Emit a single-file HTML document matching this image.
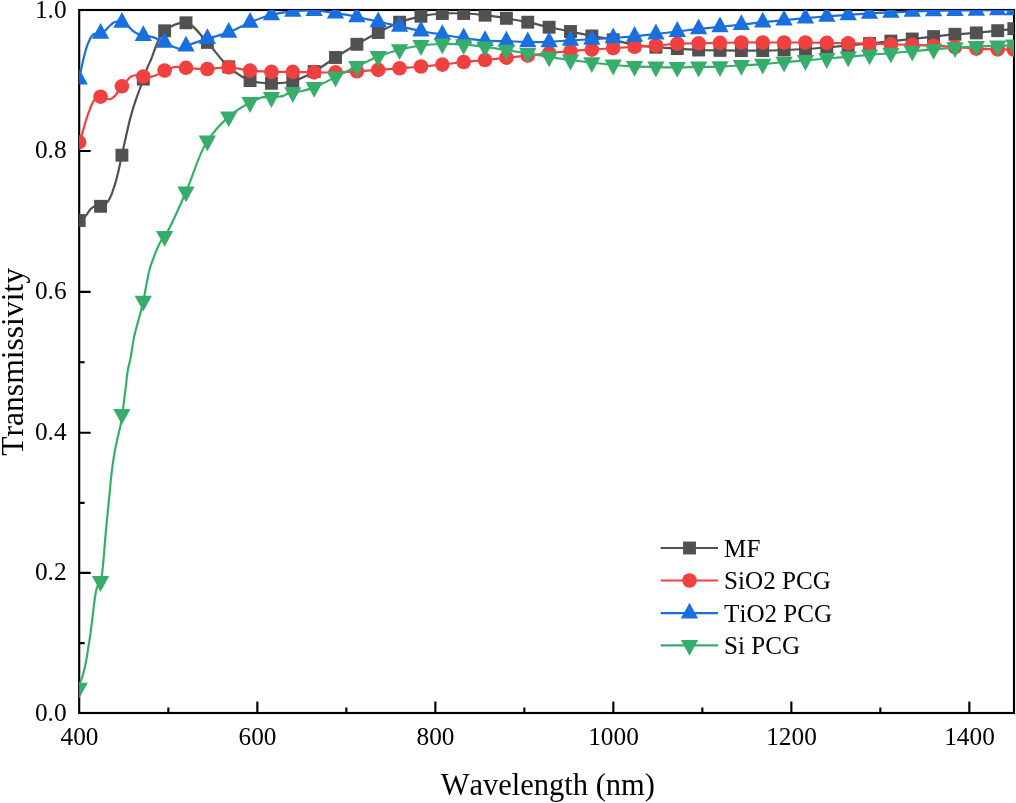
<!DOCTYPE html>
<html lang="en">
<head>
<meta charset="utf-8">
<title>Transmissivity vs Wavelength</title>
<style>
html,body{margin:0;padding:0;background:#fff;}
body{width:1016px;height:803px;overflow:hidden;}
svg{display:block;}
text{font-family:"Liberation Serif","Times New Roman",Times,serif;fill:#000;font-kerning:none;}
.tick{font-size:25.3px;}
.title{font-size:30.5px;}
.leg{font-size:25.1px;}
.ln{fill:none;stroke-width:2.2;stroke-linejoin:round;stroke-linecap:butt;}
</style>
</head>
<body>
<svg width="1016" height="803" viewBox="0 0 1016 803">
<rect width="1016" height="803" fill="#fff"/>
<defs><clipPath id="plot"><rect x="79.2" y="10" width="934.8" height="703"/></clipPath></defs>
<g id="frame" stroke="#000" stroke-width="2.15" fill="none" stroke-linecap="butt">
<rect x="79.2" y="10" width="934.8" height="703"/>
<path d="M168.35,713V707.5M257.35,713V701.5M346.35,713V707.5M435.35,713V701.5M524.35,713V707.5M613.35,713V701.5M702.35,713V707.5M791.35,713V701.5M880.35,713V707.5M969.35,713V701.5M79.2,643.1H84.7M79.2,572.9H90.7M79.2,502.8H84.7M79.2,432.7H90.7M79.2,362.2H84.7M79.2,291.8H90.7M79.2,221.4H84.7M79.2,151H90.7M79.2,80.7H84.7"/>
</g>
<g id="xticks" class="tick" text-anchor="middle">
<text x="79.5" y="745.3">400</text>
<text x="257.5" y="745.3">600</text>
<text x="435.5" y="745.3">800</text>
<text x="613.5" y="745.3">1000</text>
<text x="791.5" y="745.3">1200</text>
<text x="969.5" y="745.3">1400</text>
</g>
<g id="yticks" class="tick" text-anchor="end">
<text x="66.6" y="720.9">0.0</text>
<text x="66.6" y="580.3">0.2</text>
<text x="66.6" y="440.1">0.4</text>
<text x="66.6" y="299.2">0.6</text>
<text x="66.6" y="158.4">0.8</text>
<text x="66.6" y="17.7">1.0</text>
</g>
<text class="title" text-anchor="middle" x="547.8" y="794.5">Wavelength (nm)</text>
<text class="title" style="font-size:31.6px" text-anchor="middle" transform="translate(22.7,361.9) rotate(-90)">Transmissivity</text>
<g id="data" clip-path="url(#plot)">
<g id="s-black" fill="#515151" stroke="none">
<path class="ln" stroke="#515151" d="M79.2,220.5C81.4,218.93 83.98,217.68 85.8,215.8C87.45,214.09 88.27,211.54 89.8,209.9C90.98,208.64 92.17,207.34 93.7,206.7C95.63,205.89 98.4,206.94 100.56,206.3C102.86,205.61 105.31,204.17 107,202.5C108.5,201.02 109.41,199.05 110.4,197.1C111.62,194.69 112.46,191.92 113.4,189.2C114.48,186.05 115.5,182.69 116.4,179.4C117.3,176.12 118.08,172.65 118.8,169.5C119.35,167.11 119.79,164.92 120.3,162.6C120.83,160.15 121.31,157.95 121.92,155.2C124.09,145.42 127.91,126.5 131.1,115.1C132.7,109.37 134.31,104.34 136,99.4C137.3,95.59 138.72,92.07 140,88.5C141.14,85.32 142.17,82.26 143.28,79.1C144.46,75.73 145.59,72.2 146.9,68.9C148.11,65.85 149.33,63.25 150.8,60C154.41,51.99 157.41,36.99 164.64,30.8C170.21,26.03 179.41,21.77 186,22.8C193.88,24.03 200.52,35.41 207.36,42.4C214.81,50.02 220.81,60.19 228.72,66.9C235.29,72.47 242.46,77.92 250.08,80.6C256.81,82.97 264.31,83.19 271.44,83.3C278.55,83.41 285.91,83.12 292.8,81.3C300.18,79.35 307.25,75.31 314.16,71.5C321.52,67.45 328.35,62.06 335.52,57.5C342.6,53 349.68,48.51 356.88,44.3C363.93,40.18 371.04,36.22 378.24,32.5C385.29,28.86 392.29,24.93 399.6,22.2C406.55,19.6 413.76,17.75 420.96,16.3C428.01,14.88 435.18,13.97 442.32,13.5C449.42,13.04 456.57,13.22 463.68,13.5C470.81,13.78 477.94,14.4 485.04,15.2C492.18,16 499.3,17.14 506.4,18.3C513.54,19.47 520.67,20.72 527.76,22.2C534.91,23.69 541.98,25.65 549.12,27.2C556.22,28.75 563.36,30.03 570.48,31.5C577.6,32.97 584.7,34.61 591.84,36C598.94,37.38 606.11,38.33 613.2,39.8C620.35,41.29 627.38,43.66 634.56,44.9C641.62,46.12 648.79,46.58 655.92,47.2C663.03,47.82 670.16,48.13 677.28,48.6C684.4,49.07 691.51,49.7 698.64,50C705.75,50.3 712.88,50.3 720,50.4C727.12,50.5 734.24,50.57 741.36,50.6C748.48,50.63 755.6,50.7 762.72,50.6C769.84,50.5 776.96,50.27 784.08,50C791.2,49.73 798.32,49.43 805.44,49C812.56,48.57 819.68,47.98 826.8,47.4C833.92,46.82 841.04,46.15 848.16,45.5C855.28,44.85 862.41,44.23 869.52,43.5C876.65,42.77 883.76,41.85 890.88,41.1C898,40.35 905.12,39.75 912.24,39C919.36,38.25 926.48,37.38 933.6,36.6C940.72,35.82 947.83,34.92 954.96,34.3C962.07,33.68 969.21,33.5 976.32,32.9C983.45,32.3 990.83,31.48 997.68,30.7C1003.23,30.07 1008.43,29.37 1013.8,28.7"/>
<rect x="72.75" y="214.05" width="12.9" height="12.9"/><rect x="94.11" y="199.85" width="12.9" height="12.9"/><rect x="115.47" y="148.75" width="12.9" height="12.9"/><rect x="136.83" y="72.65" width="12.9" height="12.9"/><rect x="158.19" y="24.35" width="12.9" height="12.9"/><rect x="179.55" y="16.35" width="12.9" height="12.9"/><rect x="200.91" y="35.95" width="12.9" height="12.9"/><rect x="222.27" y="60.45" width="12.9" height="12.9"/><rect x="243.63" y="74.15" width="12.9" height="12.9"/><rect x="264.99" y="76.85" width="12.9" height="12.9"/><rect x="286.35" y="74.85" width="12.9" height="12.9"/><rect x="307.71" y="65.05" width="12.9" height="12.9"/><rect x="329.07" y="51.05" width="12.9" height="12.9"/><rect x="350.43" y="37.85" width="12.9" height="12.9"/><rect x="371.79" y="26.05" width="12.9" height="12.9"/><rect x="393.15" y="15.75" width="12.9" height="12.9"/><rect x="414.51" y="9.85" width="12.9" height="12.9"/><rect x="435.87" y="7.05" width="12.9" height="12.9"/><rect x="457.23" y="7.05" width="12.9" height="12.9"/><rect x="478.59" y="8.75" width="12.9" height="12.9"/><rect x="499.95" y="11.85" width="12.9" height="12.9"/><rect x="521.31" y="15.75" width="12.9" height="12.9"/><rect x="542.67" y="20.75" width="12.9" height="12.9"/><rect x="564.03" y="25.05" width="12.9" height="12.9"/><rect x="585.39" y="29.55" width="12.9" height="12.9"/><rect x="606.75" y="33.35" width="12.9" height="12.9"/><rect x="628.11" y="38.45" width="12.9" height="12.9"/><rect x="649.47" y="40.75" width="12.9" height="12.9"/><rect x="670.83" y="42.15" width="12.9" height="12.9"/><rect x="692.19" y="43.55" width="12.9" height="12.9"/><rect x="713.55" y="43.95" width="12.9" height="12.9"/><rect x="734.91" y="44.15" width="12.9" height="12.9"/><rect x="756.27" y="44.15" width="12.9" height="12.9"/><rect x="777.63" y="43.55" width="12.9" height="12.9"/><rect x="798.99" y="42.55" width="12.9" height="12.9"/><rect x="820.35" y="40.95" width="12.9" height="12.9"/><rect x="841.71" y="39.05" width="12.9" height="12.9"/><rect x="863.07" y="37.05" width="12.9" height="12.9"/><rect x="884.43" y="34.65" width="12.9" height="12.9"/><rect x="905.79" y="32.55" width="12.9" height="12.9"/><rect x="927.15" y="30.15" width="12.9" height="12.9"/><rect x="948.51" y="27.85" width="12.9" height="12.9"/><rect x="969.87" y="26.45" width="12.9" height="12.9"/><rect x="991.23" y="24.25" width="12.9" height="12.9"/><rect x="1007.35" y="22.25" width="12.9" height="12.9"/>
</g>
<g id="s-red" fill="#F14040" stroke="none">
<path class="ln" stroke="#F14040" d="M79.2,142.2C80.27,139.07 81.38,136.03 82.4,132.8C83.6,129.01 84.61,124.76 85.8,121C86.76,117.95 87.75,115.05 88.8,112.2C89.73,109.67 90.7,107.02 91.7,104.8C92.35,103.36 92.86,101.98 93.7,100.8C94.48,99.71 95.38,98.58 96.5,97.9C97.66,97.19 99.24,96.69 100.56,96.7C101.73,96.71 102.86,97.34 104,97.7C105.17,98.07 106.34,98.65 107.5,98.9C108.47,99.11 109.47,99.4 110.4,99.2C111.62,98.94 112.85,97.82 113.9,96.9C115,95.93 115.81,94.75 116.8,93.5C118.45,91.42 120.12,88.58 121.92,86.3C123.6,84.17 125.44,82.03 127.2,80.2C128.5,78.85 129.63,77.32 131.1,76.5C132.32,75.82 133.75,75.42 135.1,75.3C136.39,75.18 137.69,75.5 139,75.7C140.42,75.92 141.77,76.39 143.28,76.6C145.44,76.89 148.14,77.18 150.3,76.9C151.86,76.7 153.32,76.14 154.7,75.7C155.75,75.36 156.65,75.07 157.7,74.6C159.81,73.66 162.28,71.62 164.64,70.5C166.72,69.51 168.96,68.75 171,68.1C172.51,67.62 173.79,67.11 175.4,66.9C178.43,66.51 182.21,67.52 186,67.8C192.4,68.27 200.24,69.07 207.36,69C214.48,68.93 221.62,67.14 228.72,67.4C235.86,67.66 242.94,69.85 250.08,70.6C257.18,71.35 264.32,71.68 271.44,71.9C278.56,72.12 285.68,71.82 292.8,71.9C299.92,71.98 307.04,72.32 314.16,72.4C321.28,72.48 328.4,72.58 335.52,72.4C342.64,72.22 349.76,71.72 356.88,71.3C364,70.88 371.12,70.4 378.24,69.9C385.36,69.4 392.48,68.87 399.6,68.3C406.72,67.73 413.84,67.12 420.96,66.5C428.08,65.88 435.21,65.35 442.32,64.6C449.45,63.85 456.55,62.77 463.68,62C470.79,61.23 477.92,60.72 485.04,60C492.16,59.28 499.28,58.42 506.4,57.7C513.52,56.98 520.65,56.47 527.76,55.7C534.89,54.93 541.99,53.87 549.12,53.1C556.23,52.33 563.35,51.68 570.48,51.1C577.59,50.52 584.72,50.08 591.84,49.6C598.96,49.12 606.08,48.67 613.2,48.2C620.32,47.73 627.44,47.22 634.56,46.8C641.68,46.38 648.81,46.22 655.92,45.7C663.05,45.18 670.15,44.1 677.28,43.7C684.39,43.3 691.52,43.43 698.64,43.3C705.76,43.17 712.88,43.03 720,42.9C727.12,42.77 734.24,42.57 741.36,42.5C748.48,42.43 755.6,42.5 762.72,42.5C769.84,42.5 776.96,42.5 784.08,42.5C791.2,42.5 798.32,42.45 805.44,42.5C812.56,42.55 819.68,42.67 826.8,42.8C833.92,42.93 841.04,43.15 848.16,43.3C855.28,43.45 862.4,43.53 869.52,43.7C876.64,43.87 883.76,44.1 890.88,44.3C898,44.5 905.12,44.67 912.24,44.9C919.36,45.13 926.48,45.35 933.6,45.7C940.72,46.05 947.84,46.52 954.96,47C962.08,47.48 969.19,48.2 976.32,48.6C983.43,49 990.83,49.26 997.68,49.4C1003.23,49.51 1008.43,49.47 1013.8,49.5"/>
<circle cx="79.2" cy="142.2" r="7.3"/><circle cx="100.56" cy="96.7" r="7.3"/><circle cx="121.92" cy="86.3" r="7.3"/><circle cx="143.28" cy="76.6" r="7.3"/><circle cx="164.64" cy="70.5" r="7.3"/><circle cx="186" cy="67.8" r="7.3"/><circle cx="207.36" cy="69" r="7.3"/><circle cx="228.72" cy="67.4" r="7.3"/><circle cx="250.08" cy="70.6" r="7.3"/><circle cx="271.44" cy="71.9" r="7.3"/><circle cx="292.8" cy="71.9" r="7.3"/><circle cx="314.16" cy="72.4" r="7.3"/><circle cx="335.52" cy="72.4" r="7.3"/><circle cx="356.88" cy="71.3" r="7.3"/><circle cx="378.24" cy="69.9" r="7.3"/><circle cx="399.6" cy="68.3" r="7.3"/><circle cx="420.96" cy="66.5" r="7.3"/><circle cx="442.32" cy="64.6" r="7.3"/><circle cx="463.68" cy="62" r="7.3"/><circle cx="485.04" cy="60" r="7.3"/><circle cx="506.4" cy="57.7" r="7.3"/><circle cx="527.76" cy="55.7" r="7.3"/><circle cx="549.12" cy="53.1" r="7.3"/><circle cx="570.48" cy="51.1" r="7.3"/><circle cx="591.84" cy="49.6" r="7.3"/><circle cx="613.2" cy="48.2" r="7.3"/><circle cx="634.56" cy="46.8" r="7.3"/><circle cx="655.92" cy="45.7" r="7.3"/><circle cx="677.28" cy="43.7" r="7.3"/><circle cx="698.64" cy="43.3" r="7.3"/><circle cx="720" cy="42.9" r="7.3"/><circle cx="741.36" cy="42.5" r="7.3"/><circle cx="762.72" cy="42.5" r="7.3"/><circle cx="784.08" cy="42.5" r="7.3"/><circle cx="805.44" cy="42.5" r="7.3"/><circle cx="826.8" cy="42.8" r="7.3"/><circle cx="848.16" cy="43.3" r="7.3"/><circle cx="869.52" cy="43.7" r="7.3"/><circle cx="890.88" cy="44.3" r="7.3"/><circle cx="912.24" cy="44.9" r="7.3"/><circle cx="933.6" cy="45.7" r="7.3"/><circle cx="954.96" cy="47" r="7.3"/><circle cx="976.32" cy="48.6" r="7.3"/><circle cx="997.68" cy="49.4" r="7.3"/><circle cx="1013.8" cy="49.5" r="7.3"/>
</g>
<g id="s-blue" fill="#1A6FDF" stroke="none">
<path class="ln" stroke="#1A6FDF" d="M79.2,79C79.83,75.93 80.46,72.87 81.1,69.8C81.76,66.67 82.39,63.45 83.1,60.4C83.73,57.7 84.39,55.04 85.1,52.5C85.7,50.33 86.3,48.22 87,46.2C87.61,44.44 88.27,42.71 89,41.1C89.62,39.74 90.25,38.37 91,37.2C91.58,36.29 92.09,35.3 92.9,34.7C93.74,34.08 94.9,33.83 96,33.6C97.41,33.31 99.14,33.82 100.56,33.4C102.05,32.96 103.4,31.91 104.7,30.9C106.28,29.68 107.63,27.89 109.1,26.5C110.4,25.28 111.68,23.87 113,23C113.83,22.45 114.61,21.98 115.5,21.7C116.44,21.4 117.5,21.22 118.5,21.3C119.64,21.39 120.8,22 121.92,22.4C122.97,22.77 124.02,23.03 125,23.6C126.35,24.38 127.6,25.76 128.8,26.9C129.89,27.94 130.8,29.15 131.9,30.1C132.91,30.97 134,31.73 135.1,32.4C136.1,33.01 137.08,33.53 138.2,34C139.73,34.65 141.49,35.19 143.28,35.6C145.62,36.14 148.49,36.06 150.8,36.6C152.47,36.99 153.85,37.48 155.5,38.1C158.31,39.16 161.83,40.85 164.64,42.3C166.72,43.37 168.58,44.7 170.5,45.6C171.95,46.28 173.37,46.78 174.8,47.3C176.11,47.77 177.41,48.53 178.7,48.6C179.81,48.66 180.91,48.34 182,48C183.35,47.58 184.49,46.76 186,46.1C191.12,43.87 200.19,40.9 207.36,38.6C214.43,36.33 221.75,35.02 228.72,32.4C236,29.67 242.85,25.37 250.08,22.4C257.1,19.52 264.19,16.64 271.44,14.8C278.44,13.02 285.65,12.12 292.8,11.4C299.89,10.69 307.06,10.2 314.16,10.5C321.3,10.8 328.42,12.15 335.52,13.2C342.66,14.25 349.79,15.38 356.88,16.8C364.03,18.24 371.11,20.21 378.24,21.8C385.35,23.38 392.49,24.77 399.6,26.3C406.73,27.83 413.81,29.61 420.96,31C428.05,32.38 435.2,33.43 442.32,34.6C449.44,35.77 456.55,36.98 463.68,38C470.79,39.01 477.9,40.17 485.04,40.7C492.14,41.23 499.28,41 506.4,41.2C513.52,41.4 520.64,41.78 527.76,41.9C534.88,42.02 542.01,42.17 549.12,41.9C556.25,41.63 563.36,40.73 570.48,40.3C577.6,39.87 584.72,39.7 591.84,39.3C598.96,38.9 606.08,38.38 613.2,37.9C620.32,37.42 627.45,37.05 634.56,36.4C641.69,35.75 648.8,34.82 655.92,34C663.04,33.18 670.16,32.35 677.28,31.5C684.4,30.65 691.51,29.68 698.64,28.9C705.75,28.12 712.88,27.52 720,26.8C727.12,26.08 734.24,25.37 741.36,24.6C748.48,23.83 755.59,22.93 762.72,22.2C769.83,21.47 776.96,20.88 784.08,20.2C791.2,19.52 798.32,18.73 805.44,18.1C812.56,17.47 819.68,16.95 826.8,16.4C833.92,15.85 841.04,15.3 848.16,14.8C855.28,14.3 862.4,13.8 869.52,13.4C876.64,13 883.76,12.73 890.88,12.4C898,12.07 905.12,11.67 912.24,11.4C919.36,11.13 926.48,10.95 933.6,10.8C940.72,10.65 947.84,10.58 954.96,10.5C962.08,10.42 969.2,10.4 976.32,10.3C983.44,10.2 990.83,9.96 997.68,9.9C1003.23,9.85 1008.43,9.9 1013.8,9.9"/>
<path d="M79.2,68.6L87.85,84.4L70.55,84.4Z"/><path d="M100.56,23L109.21,38.8L91.91,38.8Z"/><path d="M121.92,12L130.57,27.8L113.27,27.8Z"/><path d="M143.28,25.2L151.93,41L134.63,41Z"/><path d="M164.64,31.9L173.29,47.7L155.99,47.7Z"/><path d="M186,35.7L194.65,51.5L177.35,51.5Z"/><path d="M207.36,28.2L216.01,44L198.71,44Z"/><path d="M228.72,22L237.37,37.8L220.07,37.8Z"/><path d="M250.08,12L258.73,27.8L241.43,27.8Z"/><path d="M271.44,4.4L280.09,20.2L262.79,20.2Z"/><path d="M292.8,1L301.45,16.8L284.15,16.8Z"/><path d="M314.16,0.1L322.81,15.9L305.51,15.9Z"/><path d="M335.52,2.8L344.17,18.6L326.87,18.6Z"/><path d="M356.88,6.4L365.53,22.2L348.23,22.2Z"/><path d="M378.24,11.4L386.89,27.2L369.59,27.2Z"/><path d="M399.6,15.9L408.25,31.7L390.95,31.7Z"/><path d="M420.96,20.6L429.61,36.4L412.31,36.4Z"/><path d="M442.32,24.2L450.97,40L433.67,40Z"/><path d="M463.68,27.6L472.33,43.4L455.03,43.4Z"/><path d="M485.04,30.3L493.69,46.1L476.39,46.1Z"/><path d="M506.4,30.8L515.05,46.6L497.75,46.6Z"/><path d="M527.76,31.5L536.41,47.3L519.11,47.3Z"/><path d="M549.12,31.5L557.77,47.3L540.47,47.3Z"/><path d="M570.48,29.9L579.13,45.7L561.83,45.7Z"/><path d="M591.84,28.9L600.49,44.7L583.19,44.7Z"/><path d="M613.2,27.5L621.85,43.3L604.55,43.3Z"/><path d="M634.56,26L643.21,41.8L625.91,41.8Z"/><path d="M655.92,23.6L664.57,39.4L647.27,39.4Z"/><path d="M677.28,21.1L685.93,36.9L668.63,36.9Z"/><path d="M698.64,18.5L707.29,34.3L689.99,34.3Z"/><path d="M720,16.4L728.65,32.2L711.35,32.2Z"/><path d="M741.36,14.2L750.01,30L732.71,30Z"/><path d="M762.72,11.8L771.37,27.6L754.07,27.6Z"/><path d="M784.08,9.8L792.73,25.6L775.43,25.6Z"/><path d="M805.44,7.7L814.09,23.5L796.79,23.5Z"/><path d="M826.8,6L835.45,21.8L818.15,21.8Z"/><path d="M848.16,4.4L856.81,20.2L839.51,20.2Z"/><path d="M869.52,3L878.17,18.8L860.87,18.8Z"/><path d="M890.88,2L899.53,17.8L882.23,17.8Z"/><path d="M912.24,1L920.89,16.8L903.59,16.8Z"/><path d="M933.6,0.4L942.25,16.2L924.95,16.2Z"/><path d="M954.96,0.1L963.61,15.9L946.31,15.9Z"/><path d="M976.32,-0.1L984.97,15.7L967.67,15.7Z"/><path d="M997.68,-0.5L1006.33,15.3L989.03,15.3Z"/><path d="M1013.8,-0.5L1022.45,15.3L1005.15,15.3Z"/>
</g>
<g id="s-green" fill="#37AD6B" stroke="none">
<path class="ln" stroke="#37AD6B" d="M79.2,685.8C79.57,684.63 79.89,683.51 80.3,682.3C80.87,680.62 81.68,678.9 82.3,677C83.23,674.16 84.05,670.86 84.8,667.6C85.73,663.54 86.54,658.74 87.2,654.8C87.63,652.23 87.91,649.98 88.3,647.5C88.74,644.69 89.26,641.82 89.7,638.9C90.19,635.68 90.63,632.34 91.06,629.06C91.49,625.78 91.91,622.49 92.3,619.2C92.69,615.93 93,612.67 93.4,609.4C93.8,606.1 94.19,602.83 94.7,599.5C95.25,595.93 95.64,591.97 96.6,588.7C97.27,586.4 98.26,584.43 99.1,582.3C99.93,580.19 100.98,578.26 101.6,576C102.43,572.96 102.52,569.41 102.9,566C103.33,562.13 103.63,558.28 104,554.1C104.53,548 105.02,540.96 105.6,534.4C106.18,527.83 106.87,521.2 107.5,514.7C108.09,508.57 108.73,501.78 109.25,496.5C109.52,493.76 109.74,491.51 110,488.9C110.31,485.74 110.59,482.44 110.95,479.1C111.36,475.23 111.84,471.11 112.35,467.2C112.83,463.55 113.31,459.99 113.9,456.4C114.49,452.79 115.17,449.19 115.9,445.6C116.63,441.99 117.48,438.37 118.3,434.8C119.08,431.37 120.1,428.03 120.7,424.6C121.29,421.23 121.39,417.47 121.9,414.4C122.22,412.47 122.67,410.94 123,409C123.58,405.61 123.93,401.15 124.4,397.5C124.76,394.69 125.12,392.33 125.5,389.4C126.24,383.7 126.8,375.65 127.9,369.7C128.61,365.88 129.62,362.82 130.4,359C131.67,352.81 132.41,344.97 133.8,338.4C134.94,332.97 136.44,327.65 137.75,322.7C138.74,318.97 139.78,315.58 140.7,312C141.62,308.42 142.45,305.03 143.28,301.2C144.55,295.37 145.66,288.18 146.9,282.1C147.88,277.32 148.66,272.63 149.9,268.3C150.88,264.86 152.1,261.75 153.3,258.5C154.53,255.19 155.78,251.75 157.2,248.6C158.44,245.85 159.69,242.99 161.2,240.7C162.26,239.1 163.46,238.06 164.64,236.4C170.78,227.76 179.15,207.02 186,191.8C193.43,175.29 198.14,155.01 207.36,141C213.54,131.62 220.88,123.56 228.72,116.8C235.33,111.1 243.91,105.79 250.08,102.5C252.61,101.15 254.81,100.11 257.2,99.2C259.32,98.39 261.38,97.51 263.6,97.2C266.1,96.85 268.9,97.62 271.44,97.5C273.65,97.4 275.8,96.99 277.9,96.7C279.74,96.45 281.72,96.46 283.3,95.9C284.41,95.51 285.19,94.76 286.3,94.3C288.15,93.53 290.59,93.06 292.8,92.6C295.15,92.11 297.46,92.03 300,91.5C304.31,90.6 309.33,89.2 314.16,87.4C321.06,84.82 328.4,80.48 335.52,77C342.64,73.51 349.74,69.93 356.88,66.5C363.98,63.1 370.98,59.33 378.24,56.5C385.23,53.77 392.4,51.54 399.6,49.7C406.64,47.9 413.8,46.45 420.96,45.5C428.04,44.56 435.19,44.15 442.32,44C449.43,43.85 456.57,44.12 463.68,44.6C470.81,45.08 477.94,45.97 485.04,46.9C492.18,47.83 499.28,49.13 506.4,50.2C513.52,51.27 520.65,52.19 527.76,53.3C534.89,54.42 541.99,55.78 549.12,56.9C556.23,58.01 563.35,59.05 570.48,60C577.59,60.95 584.72,61.77 591.84,62.6C598.96,63.43 606.07,64.37 613.2,65C620.31,65.63 627.44,66.07 634.56,66.4C641.68,66.73 648.8,66.83 655.92,67C663.04,67.17 670.16,67.4 677.28,67.4C684.4,67.4 691.52,67.13 698.64,67C705.76,66.87 712.88,66.87 720,66.6C727.12,66.33 734.24,65.82 741.36,65.4C748.48,64.98 755.61,64.63 762.72,64.1C769.85,63.57 776.96,62.8 784.08,62.2C791.2,61.6 798.32,61.12 805.44,60.5C812.56,59.88 819.68,59.12 826.8,58.5C833.92,57.88 841.04,57.42 848.16,56.8C855.28,56.18 862.4,55.4 869.52,54.8C876.64,54.2 883.76,53.8 890.88,53.2C898,52.6 905.12,51.85 912.24,51.2C919.36,50.55 926.48,49.88 933.6,49.3C940.72,48.72 947.84,48.2 954.96,47.7C962.08,47.2 969.19,46.58 976.32,46.3C983.43,46.02 990.83,46.27 997.68,46C1003.23,45.78 1008.43,45.33 1013.8,45"/>
<path d="M79.2,698.6L87.85,682.8L70.55,682.8Z"/><path d="M100.56,591.9L109.21,576.1L91.91,576.1Z"/><path d="M121.92,424.8L130.57,409L113.27,409Z"/><path d="M143.28,311.6L151.93,295.8L134.63,295.8Z"/><path d="M164.64,246.8L173.29,231L155.99,231Z"/><path d="M186,202.2L194.65,186.4L177.35,186.4Z"/><path d="M207.36,151.4L216.01,135.6L198.71,135.6Z"/><path d="M228.72,127.2L237.37,111.4L220.07,111.4Z"/><path d="M250.08,112.9L258.73,97.1L241.43,97.1Z"/><path d="M271.44,107.9L280.09,92.1L262.79,92.1Z"/><path d="M292.8,103L301.45,87.2L284.15,87.2Z"/><path d="M314.16,97.8L322.81,82L305.51,82Z"/><path d="M335.52,87.4L344.17,71.6L326.87,71.6Z"/><path d="M356.88,76.9L365.53,61.1L348.23,61.1Z"/><path d="M378.24,66.9L386.89,51.1L369.59,51.1Z"/><path d="M399.6,60.1L408.25,44.3L390.95,44.3Z"/><path d="M420.96,55.9L429.61,40.1L412.31,40.1Z"/><path d="M442.32,54.4L450.97,38.6L433.67,38.6Z"/><path d="M463.68,55L472.33,39.2L455.03,39.2Z"/><path d="M485.04,57.3L493.69,41.5L476.39,41.5Z"/><path d="M506.4,60.6L515.05,44.8L497.75,44.8Z"/><path d="M527.76,63.7L536.41,47.9L519.11,47.9Z"/><path d="M549.12,67.3L557.77,51.5L540.47,51.5Z"/><path d="M570.48,70.4L579.13,54.6L561.83,54.6Z"/><path d="M591.84,73L600.49,57.2L583.19,57.2Z"/><path d="M613.2,75.4L621.85,59.6L604.55,59.6Z"/><path d="M634.56,76.8L643.21,61L625.91,61Z"/><path d="M655.92,77.4L664.57,61.6L647.27,61.6Z"/><path d="M677.28,77.8L685.93,62L668.63,62Z"/><path d="M698.64,77.4L707.29,61.6L689.99,61.6Z"/><path d="M720,77L728.65,61.2L711.35,61.2Z"/><path d="M741.36,75.8L750.01,60L732.71,60Z"/><path d="M762.72,74.5L771.37,58.7L754.07,58.7Z"/><path d="M784.08,72.6L792.73,56.8L775.43,56.8Z"/><path d="M805.44,70.9L814.09,55.1L796.79,55.1Z"/><path d="M826.8,68.9L835.45,53.1L818.15,53.1Z"/><path d="M848.16,67.2L856.81,51.4L839.51,51.4Z"/><path d="M869.52,65.2L878.17,49.4L860.87,49.4Z"/><path d="M890.88,63.6L899.53,47.8L882.23,47.8Z"/><path d="M912.24,61.6L920.89,45.8L903.59,45.8Z"/><path d="M933.6,59.7L942.25,43.9L924.95,43.9Z"/><path d="M954.96,58.1L963.61,42.3L946.31,42.3Z"/><path d="M976.32,56.7L984.97,40.9L967.67,40.9Z"/><path d="M997.68,56.4L1006.33,40.6L989.03,40.6Z"/><path d="M1013.8,55.4L1022.45,39.6L1005.15,39.6Z"/>
</g>
</g>
<g id="legend" class="leg">
<g fill="#515151"><path class="ln" stroke-linecap="round" stroke="#515151" d="M660.7,548H718"/><rect x="683.05" y="541.55" width="12.9" height="12.9"/></g><text x="724.1" y="556.5">MF</text>
<g fill="#F14040"><path class="ln" stroke-linecap="round" stroke="#F14040" d="M660.7,580.5H718"/><circle cx="689.5" cy="580.5" r="7.3"/></g><text x="724.1" y="589">SiO2 PCG</text>
<g fill="#1A6FDF"><path class="ln" stroke-linecap="round" stroke="#1A6FDF" d="M660.7,613.1H718"/><path d="M689.5,602.7L698.15,618.5L680.85,618.5Z"/></g><text x="724.1" y="621.6">TiO2 PCG</text>
<g fill="#37AD6B"><path class="ln" stroke-linecap="round" stroke="#37AD6B" d="M660.7,645.3H718"/><path d="M689.5,655.7L698.15,639.9L680.85,639.9Z"/></g><text x="724.1" y="653.8">Si PCG</text>
</g>
</svg>
</body>
</html>
